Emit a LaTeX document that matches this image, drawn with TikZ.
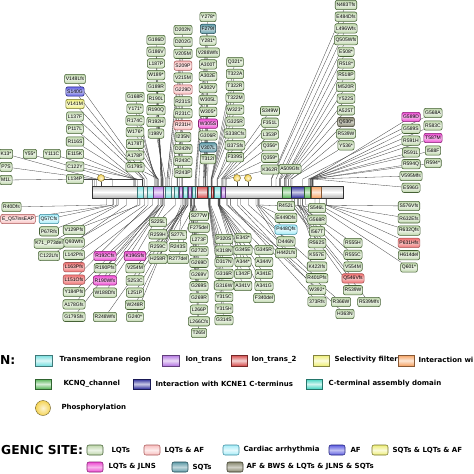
\documentclass[tikz,border=0pt]{standalone}
\usepackage{fontspec}
\setmainfont{Liberation Sans}
\newfontfamily\legfont{DejaVu Sans}
\usetikzlibrary{backgrounds}
\definecolor{lqtfill}{RGB}{190,214,170}
\definecolor{lqtline}{RGB}{70,98,54}
\definecolor{lqtaffill}{RGB}{248,190,190}
\definecolor{lqtafline}{RGB}{170,90,90}
\definecolor{lqtafdark}{RGB}{238,112,112}
\definecolor{carrfill}{RGB}{165,236,248}
\definecolor{carrline}{RGB}{60,140,160}
\definecolor{affill}{RGB}{95,95,225}
\definecolor{afline}{RGB}{35,35,125}
\definecolor{sqlaffill}{RGB}{238,238,120}
\definecolor{sqlafline}{RGB}{115,115,40}
\definecolor{jlnsfill}{RGB}{238,75,210}
\definecolor{jlnsline}{RGB}{135,30,115}
\definecolor{sqtfill}{RGB}{95,155,168}
\definecolor{sqtline}{RGB}{35,75,85}
\definecolor{multifill}{RGB}{135,135,110}
\definecolor{multiline}{RGB}{55,55,40}
\definecolor{tmcol}{RGB}{115,222,222}
\definecolor{ioncol}{RGB}{178,115,225}
\definecolor{ion2col}{RGB}{212,72,72}
\definecolor{selcol}{RGB}{238,238,115}
\definecolor{intcol}{RGB}{245,160,95}
\definecolor{kcnqcol}{RGB}{85,180,85}
\definecolor{kcnecol}{RGB}{45,45,155}
\definecolor{asmcol}{RGB}{65,212,192}
\definecolor{phoscol}{RGB}{245,212,85}
\tikzset{
  mut/.style     = {rectangle, rounded corners=2pt, line width=0.55pt, inner xsep=1.3pt, inner ysep=0pt, minimum height=9.4pt, font=\fontsize{5}{5}\selectfont},
  lqt/.style     = {mut, draw=lqtline, top color=lqtfill, bottom color=lqtfill, middle color=lqtfill!30!white},
  lqtaf/.style   = {mut, draw=lqtafline, top color=lqtaffill, bottom color=lqtaffill, middle color=lqtaffill!30!white},
  lqtafd/.style  = {mut, draw=lqtafline, top color=lqtafdark, bottom color=lqtafdark, middle color=lqtafdark!45!white},
  carr/.style    = {mut, draw=carrline, top color=carrfill, bottom color=carrfill, middle color=carrfill!30!white},
  af/.style      = {mut, draw=afline, top color=affill, bottom color=affill, middle color=affill!40!white},
  sqlaf/.style   = {mut, draw=sqlafline, top color=sqlaffill, bottom color=sqlaffill, middle color=sqlaffill!30!white},
  lqtjl/.style   = {mut, draw=jlnsline, top color=jlnsfill, bottom color=jlnsfill, middle color=jlnsfill!40!white},
  sqt/.style     = {mut, draw=sqtline, top color=sqtfill, bottom color=sqtfill, middle color=sqtfill!40!white},
  multi/.style   = {mut, draw=multiline, top color=multifill, bottom color=multifill, middle color=multifill!40!white},
  dom/.style     = {draw=#1!55!black, line width=0.3pt, top color=#1, bottom color=#1, middle color=#1!25!white},
  lead/.style    = {black!75, line width=0.3pt},
  phos/.style    = {draw=phoscol!45!black, line width=0.4pt, inner color=phoscol!25!white, outer color=phoscol},
  legtext/.style = {anchor=west, font=\legfont\bfseries\fontsize{7}{8}\selectfont},
  legtitle/.style= {anchor=west, font=\legfont\bfseries\fontsize{12.3}{13}\selectfont},
}
% a column of mutation labels: name, x, first y, pitch, elbow y, bar y, list text/residue/class
\newcommand{\mutcol}[7]{%
  \foreach \txt/\res/\cat [count=\i] in {#7}{%
    \node[\cat] (#1-\i) at (#2, {#3+(\i-1)*#4}) {\txt};
    \pgfmathsetmacro{\tx}{92+0.371*\res}
    \coordinate (#1-\i-p) at (\tx,#6);
    \begin{scope}[on background layer]
      \draw[lead] (#1-\i) -- (\tx,#5) -- (#1-\i-p);
    \end{scope}
  }%
}

\begin{document}
\begin{tikzpicture}[x=1pt, y=-1pt]
\useasboundingbox (0,0) rectangle (474,474);

% protein bar
\shade[top color=gray!45, bottom color=gray!60, middle color=white] (92,186) rectangle (343,198);
\foreach \a/\b in {137/143, 147/153, 165/171, 174/178, 183/187, 192/195, 208/211, 214/220}
  \shade[dom=tmcol] (\a,186) rectangle (\b,198);
\foreach \a/\b in {153/163, 179/182, 188/191, 221/225}
  \shade[dom=ioncol] (\a,186) rectangle (\b,198);
\foreach \a/\b in {197/207, 211/213}
  \shade[dom=ion2col] (\a,186) rectangle (\b,198);
\shade[dom=kcnqcol] (282,186) rectangle (291,198);
\shade[dom=kcnecol] (291,186) rectangle (304,198);
\shade[dom=kcnqcol] (304,186) rectangle (310,198);
\shade[dom=intcol] (311,186) rectangle (321,198);
\draw[gray!40!black, line width=0.4pt] (92,186) rectangle (343,198);

% phosphorylation sites
\foreach \px in {101, 237, 248} {
  \draw[black!75, line width=0.4pt] (\px,181.5) -- (\px,186);
  \shade[phos] (\px,178) circle (3.5pt);
}

% labels above the bar
\mutcol{ka}{6}{154}{13}{179}{186}{K13*/13/lqt, P7S/7/lqt, M1L/1/lqt}
\mutcol{kb}{30}{154}{0}{179}{186}{Y55*/55/lqt}
\mutcol{kc}{52}{154}{0}{179}{186}{Y111C/111/lqt}
\mutcol{a}{75}{79}{12.5}{179}{186}{V148Lfs/148/lqt, S140G/140/af, V141M/141/sqlaf, L137F/137/lqt, P117L/117/lqt, R116S/116/lqt, E115K/115/lqt, C122Y/122/lqt, L134P/134/lqt}
\mutcol{b}{135}{97}{11.7}{179}{186}{G168R/168/lqt, Y171*/171/lqt, R174C/174/lqt, W176*/176/lqt, A178T/178/lqt, A178P/178/lqt, G179S/179/lqt}
\mutcol{c}{156}{40}{11.7}{179}{186}{G186D/186/lqt, G186V/186/lqt, L187P/187/lqt, W189*/189/lqt, G189R/189/lqt, R190L/190/lqt, R190Q/190/lqt, R192H/192/lqt, I198V/198/lqt}
\mutcol{d}{183}{30}{11.9}{179}{186}{D202N/202/lqt, D202G/202/lqt, V205M/205/lqt, S209P/209/lqtaf, V215M/215/lqt, G229D/229/lqtaf, R231S/231/lqt, R231C/231/lqt, R231H/231/lqtaf, I235N/235/lqt, D242N/242/lqt, R243C/243/lqt, R243P/243/lqt}
\mutcol{e}{208}{17}{11.85}{179}{186}{Y278*/278/lqt, F279I/279/sqt, Y281*/281/lqt, V288Wfs/288/lqt, A300T/300/lqt, A302E/302/lqt, A302V/302/lqt, W305L/305/lqt, W305*/305/lqt, W305S/305/lqtjl, G306R/306/lqt, V307L/307/sqt, T312I/312/lqt}
\mutcol{f}{235}{62}{11.9}{179}{186}{Q321*/321/lqt, T322A/322/lqt, T322R/322/lqt, T322M/322/lqt, W323*/323/lqt, G325R/325/lqt, S338Cfs/338/lqt, I337Sfs/337/lqt, F339S/339/lqt}
\mutcol{g}{270}{111}{11.7}{179}{186}{S349W/349/lqt, F351L/351/lqt, L353P/353/lqt, Q356*/356/lqt, Q359*/359/lqt, K362R/362/lqt}
\mutcol{ga}{290}{169}{0}{179}{186}{A509Gfs/509/lqt}
\mutcol{h}{346}{5}{11.7}{179}{186}{N483Tfs/483/lqt, E484Dfs/484/lqt, L496Wfs/496/lqt, Q505Wfs/505/lqt, E508*/508/lqt, R518*/518/lqt, R518P/518/lqt, M520R/520/lqt, Y522S/522/lqt, A525T/525/lqt, Q530*/530/multi, R539W/539/lqt, Y536*/536/lqt}
\mutcol{i}{411}{117}{11.8}{179}{186}{G589D/589/lqtjl, G589S/589/lqt, R591H/591/lqt, R591L/591/lqt, R594Q/594/lqt, V595Mfs/595/lqt, E596G/596/lqt}
\mutcol{j}{433}{113}{12.5}{179}{186}{G568A/568/lqt, R583C/583/lqt, T587M/587/lqtjl, I588F/588/lqt, R594*/594/lqt}

% labels below the bar
\mutcol{k}{409}{206}{12.3}{205}{198}{S576Vfs/576/lqt, R632Efs/632/lqt, R632Qfs/632/lqt, P631Hfs/631/lqtafd, H614del/614/lqt, Q601*/601/lqt}
\mutcol{l}{286}{206}{11.8}{205}{198}{R452L/452/lqt, E449Dfs/449/lqt, P448Qfs/448/carr, D446N/446/lqt, H442Lfs/442/lqt}
\mutcol{m}{317}{208}{11.7}{205}{198}{S546L/546/lqt, G568R/568/lqt, I567T/567/lqt, R562S/562/lqt, K557E/557/lqt, K422Ifs/422/lqt, R401Pfs/401/lqt, W392*/392/lqt, 373Rfs/373/lqt}
\mutcol{n}{353}{243}{11.8}{205}{198}{R555H/555/lqt, R555C/555/lqt, V554M/554/lqt, Q546Vfs/546/lqtafd, R539W/539/lqt}
\mutcol{na}{341}{302}{0}{205}{198}{R366W/366/lqt}
\mutcol{nb}{369}{302}{0}{205}{198}{R539Mfs/539/lqt}
\mutcol{nc}{345}{314}{0}{205}{198}{H363N/363/lqt}
\mutcol{o}{199}{216}{11.7}{205}{198}{S277W/277/lqt, F275del/275/lqt, L273F/273/lqt, G272D/272/lqt, G269D/269/lqt, G269V/269/lqt, G269S/269/lqt, G269R/269/lqt, L266P/266/lqt, L266Cfs/266/lqt, T265I/265/lqt}
\mutcol{p}{224}{239}{11.6}{205}{198}{P320S/320/lqt, K318N/318/lqt, D317N/317/lqt, G316R/316/lqt, G316W/316/lqt, Y315C/315/lqt, Y315H/315/lqt, G314S/314/lqt}
\mutcol{q}{243}{238}{12}{205}{198}{E343*/343/lqt, G345E/345/lqt, A344*/344/lqt, L342F/342/lqt, A341V/341/lqt}
\mutcol{r}{264}{250}{12}{205}{198}{G345R/345/lqt, A344V/344/lqt, A341E/341/lqt, A341G/341/lqt, F340del/340/lqt}
\mutcol{s}{158}{222}{12.3}{205}{198}{S225L/225/lqt, R259H/259/lqt, R259C/259/lqt, H258R/258/lqt}
\mutcol{t}{178}{235}{12}{205}{198}{S277L/277/lqt, R243S/243/lqt, R277del/277/lqt}
\mutcol{u}{135}{256}{12.2}{205}{198}{K196Sfs/196/lqtjl, V254M/254/lqt, S253C/253/lqt, L251P/251/lqt, W248R/248/lqt, G240*/240/lqt}
\mutcol{v}{105}{256}{12.2}{205}{198}{R192Cfs/192/lqtjl, R190Pfs/190/lqt, R190Wfs/190/lqtjl, W188Dfs/188/lqt}
\mutcol{va}{105}{317}{0}{205}{198}{R248Wfs/248/lqt}
\mutcol{w}{74}{230}{12.4}{205}{198}{V129Pfs/129/lqt, Q93Wfs/93/lqt, L142Pfs/142/lqt, L163Pfs/163/lqtafd, L151Ofs/151/lqtafd, Y184Pfs/184/lqt, A178Gfs/178/lqt, G179Sfs/179/lqt}
\mutcol{y}{49}{219}{12.3}{205}{198}{Q57Cfs/57/carr, P67Rfs/67/lqt, K71\_P73del/71/lqt, C122Lfs/122/lqt}
\mutcol{ya}{11.5}{207}{0}{205}{198}{R40Dfs/40/lqt}
\mutcol{yb}{18}{219}{0}{205}{198}{E\_Q57insEAP/57/lqtaf}

% legend: domains
\node[legtitle, inner xsep=0pt] (domtitle) at (0,360) {N:};
\shade[dom=tmcol] (35,355) rectangle (52,366);
\node[legtext] (l-tm) at (56,360) {Transmembrane region};
\shade[dom=ioncol] (162,355) rectangle (179,366);
\node[legtext] (l-ion) at (182,360) {Ion\_trans};
\shade[dom=ion2col] (231,355) rectangle (247,366);
\node[legtext] (l-ion2) at (248,360) {Ion\_trans\_2};
\shade[dom=selcol] (313,355) rectangle (329,366);
\node[legtext] (l-sel) at (331,360) {Selectivity filter};
\shade[dom=intcol] (398,355) rectangle (414,366);
\node[legtext] (l-int) at (415,360) {Interaction wi};
\shade[dom=kcnqcol] (35,379) rectangle (51,389);
\node[legtext] (l-kcnq) at (60,384) {KCNQ\_channel};
\shade[dom=kcnecol] (133,379) rectangle (150,389);
\node[legtext] (l-kcne) at (152,384) {Interaction with KCNE1 C-terminus};
\shade[dom=asmcol] (306,379) rectangle (322,389);
\node[legtext] (l-asm) at (325,384) {C-terminal assembly domain};
\shade[phos] (43,408) circle (7.5pt);
\node[legtext] (l-phos) at (58,408) {Phosphorylation};

% legend: sites
\node[legtitle, inner xsep=0pt] (sitetitle) at (1,450) {GENIC SITE:};
\node[lqt, minimum width=16pt, minimum height=10pt] (s-lqt) at (95,450) {};
\node[legtext] (t-lqt) at (108,450) {LQTs};
\node[lqtaf, minimum width=16pt, minimum height=10pt] (s-lqtaf) at (152,450) {};
\node[legtext] (t-lqtaf) at (161,450) {LQTs \& AF};
\node[carr, minimum width=16pt, minimum height=10pt] (s-carr) at (231,450) {};
\node[legtext] (t-carr) at (240,450) {Cardiac arrhythmia};
\node[af, minimum width=16pt, minimum height=10pt] (s-af) at (337,450) {};
\node[legtext] (t-af) at (347,450) {AF};
\node[sqlaf, minimum width=16pt, minimum height=10pt] (s-sqlaf) at (380,450) {};
\node[legtext] (t-sqlaf) at (389,450) {SQTs \& LQTs \& AF};
\node[lqtjl, minimum width=16pt, minimum height=10pt] (s-lqtjl) at (95,467) {};
\node[legtext] (t-lqtjl) at (105,467) {LQTs \& JLNS};
\node[sqt, minimum width=16pt, minimum height=10pt] (s-sqt) at (180,467) {};
\node[legtext] (t-sqt) at (189,467) {SQTs};
\node[multi, minimum width=16pt, minimum height=10pt] (s-multi) at (235,467) {};
\node[legtext] (t-multi) at (243,467) {AF \& BWS \& LQTs \& JLNS \& SQTs};

\end{tikzpicture}
\end{document}
